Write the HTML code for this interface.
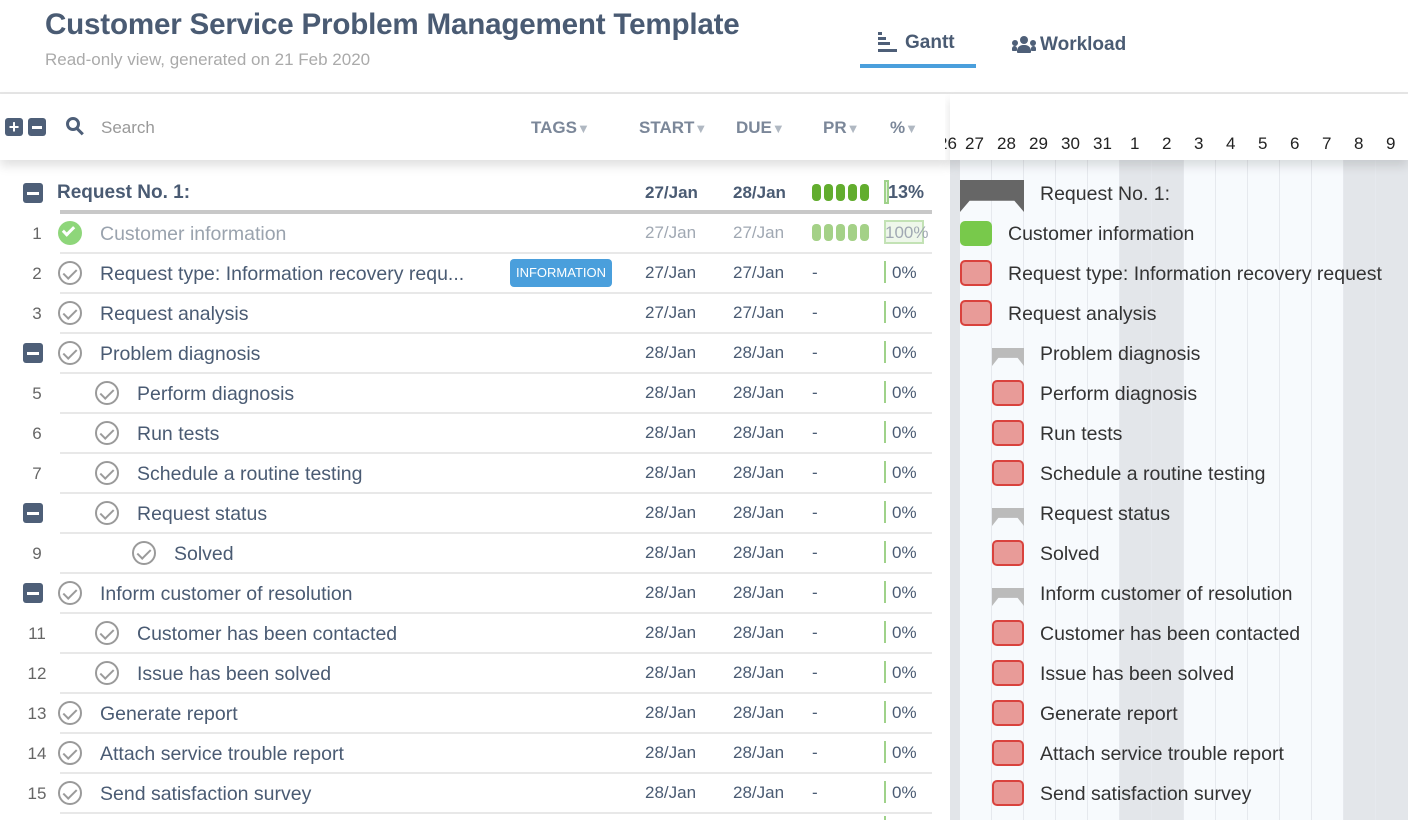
<!DOCTYPE html>
<html><head><meta charset="utf-8"><style>
*{margin:0;padding:0;box-sizing:border-box}
body{width:1408px;height:820px;overflow:hidden;background:#fff;font-family:"Liberation Sans",sans-serif;position:relative;color:#4a5b73}
.a{position:absolute;white-space:nowrap}
.t{font-size:19.5px;line-height:24px;transform:translateY(1px)}
.num{font-size:17px;color:#666;width:30px;text-align:center;transform:translateY(2px)}
.d{font-size:17px;color:#4a5b73;transform:translateY(1px)}
.sep{position:absolute;left:60px;width:872px;height:2px;background:#e8e8e8}
.chk{position:absolute;width:24px;height:24px;border:2px solid #9a9a9a;border-radius:50%}
.chk:after{content:"";position:absolute;left:6px;top:3px;width:6px;height:11px;border-right:2px solid #9a9a9a;border-bottom:2px solid #9a9a9a;transform:rotate(45deg)}
.mn{position:absolute;width:20px;height:20px;background:#4e5f78;border-radius:3px}
.mn:after{content:"";position:absolute;left:4px;top:9px;width:12px;height:3px;background:#fff}
.pb{position:absolute;left:884px;width:2px;height:22px;background:#9fd28a}
.bar{position:absolute;width:32px;height:26px;background:#e89b98;border:2px solid #d9423d;border-radius:5px}
.gt{font-size:19.5px;color:#333;line-height:24px;transform:translateY(1px)}
.col{position:absolute;top:160px;height:660px;width:1px;background:#e6e9ee}
.pill{position:absolute;width:64px;height:17px}
.pill i{float:left;width:9px;height:17px;border-radius:4px;margin-right:3px}
</style></head><body>
<div class="a" style="left:45px;top:8px;font-size:29.6px;font-weight:bold;color:#4a5b73;letter-spacing:-0.2px">Customer Service Problem Management Template</div>
<div class="a" style="left:45px;top:50px;font-size:17px;color:#aaa">Read-only view, generated on 21 Feb 2020</div>
<!-- tabs -->
<div class="a" style="left:878px;top:32px;width:18px;height:22px">
<div style="position:absolute;left:0;top:0;width:4px;height:3px;background:#4e5f78"></div>
<div style="position:absolute;left:0;top:5px;width:8px;height:3px;background:#4e5f78"></div>
<div style="position:absolute;left:0;top:10px;width:12px;height:3px;background:#4e5f78"></div>
<div style="position:absolute;left:0;top:17px;width:19px;height:3px;background:#4e5f78"></div></div>
<div class="a" style="left:905px;top:32px;font-size:19px;font-weight:bold;color:#4a5b73">Gantt</div>
<div class="a" style="left:860px;top:64px;width:116px;height:4px;background:#4a9fdc"></div>
<div class="a" style="left:1012px;top:36px;width:24px;height:18px">
<div style="position:absolute;left:8px;top:0;width:8px;height:8px;border-radius:50%;background:#4e5f78"></div>
<div style="position:absolute;left:0;top:4px;width:6px;height:6px;border-radius:50%;background:#4e5f78"></div>
<div style="position:absolute;left:18px;top:4px;width:6px;height:6px;border-radius:50%;background:#4e5f78"></div>
<div style="position:absolute;left:5px;top:9px;width:14px;height:8px;border-radius:6px 6px 1px 1px;background:#4e5f78"></div>
<div style="position:absolute;left:0;top:10px;width:5px;height:5px;border-radius:3px 3px 1px 1px;background:#4e5f78"></div>
<div style="position:absolute;left:19px;top:10px;width:5px;height:5px;border-radius:3px 3px 1px 1px;background:#4e5f78"></div></div>
<div class="a" style="left:1040px;top:34px;font-size:19px;font-weight:bold;color:#4a5b73">Workload</div>
<div class="a" style="left:0;top:92px;width:1408px;height:2px;background:#e6e6e6"></div>
<!-- toolbar -->
<div class="a" style="left:0;top:94px;width:950px;height:66px;background:#fff;box-shadow:0 6px 10px rgba(0,0,0,0.12);z-index:2">
<div style="position:absolute;left:5px;top:24px;width:18px;height:18px;background:#4e5f78;border-radius:3px;color:#fff;font-size:18px;line-height:18px;text-align:center;font-weight:bold">+</div>
<div style="position:absolute;left:28px;top:24px;width:18px;height:18px;background:#4e5f78;border-radius:3px"><div style="position:absolute;left:4px;top:8px;width:10px;height:3px;background:#fff"></div></div>
<div style="position:absolute;left:66px;top:23px;width:14px;height:14px;border:3px solid #4e5f78;border-radius:50%"></div>
<div style="position:absolute;left:76px;top:36px;width:8px;height:3px;background:#4e5f78;transform:rotate(45deg)"></div>
<div class="a" style="left:101px;top:24px;font-size:17px;color:#999">Search</div>
<div class="a" style="left:531px;top:24px;font-size:17px;font-weight:bold;color:#7b8799">TAGS<span style="color:#b0b8c2;font-size:13px">▼</span></div>
<div class="a" style="left:639px;top:24px;font-size:17px;font-weight:bold;color:#7b8799">START<span style="color:#b0b8c2;font-size:13px">▼</span></div>
<div class="a" style="left:736px;top:24px;font-size:17px;font-weight:bold;color:#7b8799">DUE<span style="color:#b0b8c2;font-size:13px">▼</span></div>
<div class="a" style="left:823px;top:24px;font-size:17px;font-weight:bold;color:#7b8799">PR<span style="color:#b0b8c2;font-size:13px">▼</span></div>
<div class="a" style="left:890px;top:24px;font-size:17px;font-weight:bold;color:#7b8799">%<span style="color:#b0b8c2;font-size:13px">▼</span></div>
</div>
<!-- gantt area -->
<div class="a" style="left:950px;top:94px;width:458px;height:726px;background:#f7fafd"></div>
<div class="a" style="left:950px;top:160px;width:10px;height:660px;background:#e2e5e9"></div>
<div class="a" style="left:1119px;top:160px;width:64px;height:660px;background:#e3e6ea"></div>
<div class="a" style="left:1343px;top:160px;width:65px;height:660px;background:#e3e6ea"></div>
<div class="col" style="left:991px"></div><div class="col" style="left:1023px"></div><div class="col" style="left:1055px"></div><div class="col" style="left:1087px"></div><div class="col" style="left:1119px"></div><div class="col" style="left:1151px"></div><div class="col" style="left:1183px"></div><div class="col" style="left:1215px"></div><div class="col" style="left:1247px"></div><div class="col" style="left:1279px"></div><div class="col" style="left:1311px"></div><div class="col" style="left:1343px"></div><div class="col" style="left:1375px"></div>
<div class="a" style="left:950px;top:94px;width:458px;height:66px;background:#fff;box-shadow:0 6px 10px rgba(0,0,0,0.12);z-index:2;font-size:17px;color:#222">
<span class="a" style="left:-12px;top:40px">26</span>
<span class="a" style="left:15px;top:40px">27</span><span class="a" style="left:47px;top:40px">28</span><span class="a" style="left:79px;top:40px">29</span><span class="a" style="left:111px;top:40px">30</span><span class="a" style="left:143px;top:40px">31</span>
<span class="a" style="left:180px;top:40px">1</span><span class="a" style="left:212px;top:40px">2</span><span class="a" style="left:244px;top:40px">3</span><span class="a" style="left:276px;top:40px">4</span><span class="a" style="left:308px;top:40px">5</span><span class="a" style="left:340px;top:40px">6</span><span class="a" style="left:372px;top:40px">7</span><span class="a" style="left:404px;top:40px">8</span><span class="a" style="left:436px;top:40px">9</span>
</div>
<div class="a" style="left:936px;top:94px;width:9px;height:66px;background:#fff;z-index:3"></div>

<!-- row 0 -->
<div class="mn" style="left:23px;top:183px"></div>
<div class="a" style="left:57px;top:182px;font-size:19px;font-weight:bold">Request No. 1:</div>
<div class="a d" style="left:645px;top:182px;font-weight:bold">27/Jan</div>
<div class="a d" style="left:733px;top:182px;font-weight:bold">28/Jan</div>
<div class="pill" style="left:812px;top:184px"><i style="background:#62ad2e"></i><i style="background:#62ad2e"></i><i style="background:#62ad2e"></i><i style="background:#62ad2e"></i><i style="background:#62ad2e"></i></div>
<div class="a" style="left:884px;top:180px;width:5px;height:24px;border:2px solid #9fd28a;background:#e6f2df"></div>
<div class="a d" style="left:888px;top:181px;font-weight:bold;font-size:18px">13%</div>
<div class="a" style="left:60px;top:210px;width:872px;height:4px;background:#c8c8c8"></div>
<div class="a" style="left:960px;top:180px;width:64px;height:32px;background:#666;clip-path:polygon(0 0,100% 0,100% 100%,85% 65%,15% 65%,0 100%)"></div>
<div class="a gt" style="left:1040px;top:181px">Request No. 1:</div>

<!-- row 1 -->
<div class="a num" style="left:22px;top:222px">1</div>
<div class="a" style="left:58px;top:221px;width:24px;height:24px;border-radius:50%;background:#8ed67a"></div>
<div class="a" style="left:65px;top:224px;width:7px;height:12px;border-right:3px solid #fff;border-bottom:3px solid #fff;transform:rotate(45deg)"></div>
<div class="a t" style="left:100px;top:221px;color:#9aa3ae">Customer information</div>
<div class="a d" style="left:645px;top:222px;color:#a0a8b3">27/Jan</div>
<div class="a d" style="left:733px;top:222px;color:#a0a8b3">27/Jan</div>
<div class="pill" style="left:812px;top:224px"><i style="background:#a4d187"></i><i style="background:#a4d187"></i><i style="background:#a4d187"></i><i style="background:#a4d187"></i><i style="background:#a4d187"></i></div>
<div class="a" style="left:884px;top:220px;width:40px;height:24px;border:2px solid #c3e2b5;background:#eef7ea"></div>
<div class="a d" style="left:885px;top:222px;color:#a0a8b3">100%</div>
<div class="sep" style="top:252px"></div>
<div class="a" style="left:960px;top:221px;width:32px;height:25px;background:#78c94b;border-radius:5px"></div>
<div class="a gt" style="left:1008px;top:221px">Customer information</div>

<div class="a num" style="left:22px;top:262px">2</div><div class="chk" style="left:58px;top:261px"></div>
<div class="a t" style="left:100px;top:261px">Request type: Information recovery requ...</div>
<div class="a" style="left:510px;top:259px;width:102px;height:28px;background:#4a9fdc;border-radius:4px;color:#fff;font-size:13px;text-align:center;line-height:28px">INFORMATION</div>
<div class="a d" style="left:645px;top:262px">27/Jan</div><div class="a d" style="left:733px;top:262px">27/Jan</div>
<div class="a d" style="left:812px;top:262px">-</div><div class="pb" style="top:261px"></div><div class="a d" style="left:892px;top:262px">0%</div>
<div class="sep" style="top:292px"></div>
<div class="bar" style="left:960px;top:260px"></div><div class="a gt" style="left:1008px;top:261px">Request type: Information recovery request</div>

<div class="a num" style="left:22px;top:302px">3</div><div class="chk" style="left:58px;top:301px"></div>
<div class="a t" style="left:100px;top:301px">Request analysis</div>
<div class="a d" style="left:645px;top:302px">27/Jan</div><div class="a d" style="left:733px;top:302px">27/Jan</div>
<div class="a d" style="left:812px;top:302px">-</div><div class="pb" style="top:301px"></div><div class="a d" style="left:892px;top:302px">0%</div>
<div class="sep" style="top:332px"></div>
<div class="bar" style="left:960px;top:300px"></div><div class="a gt" style="left:1008px;top:301px">Request analysis</div>

<div class="mn" style="left:23px;top:343px"></div><div class="chk" style="left:58px;top:341px"></div>
<div class="a t" style="left:100px;top:341px">Problem diagnosis</div>
<div class="a d" style="left:645px;top:342px">28/Jan</div><div class="a d" style="left:733px;top:342px">28/Jan</div>
<div class="a d" style="left:812px;top:342px">-</div><div class="pb" style="top:341px"></div><div class="a d" style="left:892px;top:342px">0%</div>
<div class="sep" style="top:372px"></div>
<div class="a" style="left:992px;top:348px;width:32px;height:18px;background:#bbb;clip-path:polygon(0 0,100% 0,100% 100%,80% 55%,20% 55%,0 100%)"></div><div class="a gt" style="left:1040px;top:341px">Problem diagnosis</div>

<div class="a num" style="left:22px;top:382px">5</div><div class="chk" style="left:95px;top:381px"></div>
<div class="a t" style="left:137px;top:381px">Perform diagnosis</div>
<div class="a d" style="left:645px;top:382px">28/Jan</div><div class="a d" style="left:733px;top:382px">28/Jan</div>
<div class="a d" style="left:812px;top:382px">-</div><div class="pb" style="top:381px"></div><div class="a d" style="left:892px;top:382px">0%</div>
<div class="sep" style="top:412px"></div>
<div class="bar" style="left:992px;top:380px"></div><div class="a gt" style="left:1040px;top:381px">Perform diagnosis</div>

<div class="a num" style="left:22px;top:422px">6</div><div class="chk" style="left:95px;top:421px"></div>
<div class="a t" style="left:137px;top:421px">Run tests</div>
<div class="a d" style="left:645px;top:422px">28/Jan</div><div class="a d" style="left:733px;top:422px">28/Jan</div>
<div class="a d" style="left:812px;top:422px">-</div><div class="pb" style="top:421px"></div><div class="a d" style="left:892px;top:422px">0%</div>
<div class="sep" style="top:452px"></div>
<div class="bar" style="left:992px;top:420px"></div><div class="a gt" style="left:1040px;top:421px">Run tests</div>

<div class="a num" style="left:22px;top:462px">7</div><div class="chk" style="left:95px;top:461px"></div>
<div class="a t" style="left:137px;top:461px">Schedule a routine testing</div>
<div class="a d" style="left:645px;top:462px">28/Jan</div><div class="a d" style="left:733px;top:462px">28/Jan</div>
<div class="a d" style="left:812px;top:462px">-</div><div class="pb" style="top:461px"></div><div class="a d" style="left:892px;top:462px">0%</div>
<div class="sep" style="top:492px"></div>
<div class="bar" style="left:992px;top:460px"></div><div class="a gt" style="left:1040px;top:461px">Schedule a routine testing</div>

<div class="mn" style="left:23px;top:503px"></div><div class="chk" style="left:95px;top:501px"></div>
<div class="a t" style="left:137px;top:501px">Request status</div>
<div class="a d" style="left:645px;top:502px">28/Jan</div><div class="a d" style="left:733px;top:502px">28/Jan</div>
<div class="a d" style="left:812px;top:502px">-</div><div class="pb" style="top:501px"></div><div class="a d" style="left:892px;top:502px">0%</div>
<div class="sep" style="top:532px"></div>
<div class="a" style="left:992px;top:508px;width:32px;height:18px;background:#bbb;clip-path:polygon(0 0,100% 0,100% 100%,80% 55%,20% 55%,0 100%)"></div><div class="a gt" style="left:1040px;top:501px">Request status</div>

<div class="a num" style="left:22px;top:542px">9</div><div class="chk" style="left:132px;top:541px"></div>
<div class="a t" style="left:174px;top:541px">Solved</div>
<div class="a d" style="left:645px;top:542px">28/Jan</div><div class="a d" style="left:733px;top:542px">28/Jan</div>
<div class="a d" style="left:812px;top:542px">-</div><div class="pb" style="top:541px"></div><div class="a d" style="left:892px;top:542px">0%</div>
<div class="sep" style="top:572px"></div>
<div class="bar" style="left:992px;top:540px"></div><div class="a gt" style="left:1040px;top:541px">Solved</div>

<div class="mn" style="left:23px;top:583px"></div><div class="chk" style="left:58px;top:581px"></div>
<div class="a t" style="left:100px;top:581px">Inform customer of resolution</div>
<div class="a d" style="left:645px;top:582px">28/Jan</div><div class="a d" style="left:733px;top:582px">28/Jan</div>
<div class="a d" style="left:812px;top:582px">-</div><div class="pb" style="top:581px"></div><div class="a d" style="left:892px;top:582px">0%</div>
<div class="sep" style="top:612px"></div>
<div class="a" style="left:992px;top:588px;width:32px;height:18px;background:#bbb;clip-path:polygon(0 0,100% 0,100% 100%,80% 55%,20% 55%,0 100%)"></div><div class="a gt" style="left:1040px;top:581px">Inform customer of resolution</div>

<div class="a num" style="left:22px;top:622px">11</div><div class="chk" style="left:95px;top:621px"></div>
<div class="a t" style="left:137px;top:621px">Customer has been contacted</div>
<div class="a d" style="left:645px;top:622px">28/Jan</div><div class="a d" style="left:733px;top:622px">28/Jan</div>
<div class="a d" style="left:812px;top:622px">-</div><div class="pb" style="top:621px"></div><div class="a d" style="left:892px;top:622px">0%</div>
<div class="sep" style="top:652px"></div>
<div class="bar" style="left:992px;top:620px"></div><div class="a gt" style="left:1040px;top:621px">Customer has been contacted</div>

<div class="a num" style="left:22px;top:662px">12</div><div class="chk" style="left:95px;top:661px"></div>
<div class="a t" style="left:137px;top:661px">Issue has been solved</div>
<div class="a d" style="left:645px;top:662px">28/Jan</div><div class="a d" style="left:733px;top:662px">28/Jan</div>
<div class="a d" style="left:812px;top:662px">-</div><div class="pb" style="top:661px"></div><div class="a d" style="left:892px;top:662px">0%</div>
<div class="sep" style="top:692px"></div>
<div class="bar" style="left:992px;top:660px"></div><div class="a gt" style="left:1040px;top:661px">Issue has been solved</div>

<div class="a num" style="left:22px;top:702px">13</div><div class="chk" style="left:58px;top:701px"></div>
<div class="a t" style="left:100px;top:701px">Generate report</div>
<div class="a d" style="left:645px;top:702px">28/Jan</div><div class="a d" style="left:733px;top:702px">28/Jan</div>
<div class="a d" style="left:812px;top:702px">-</div><div class="pb" style="top:701px"></div><div class="a d" style="left:892px;top:702px">0%</div>
<div class="sep" style="top:732px"></div>
<div class="bar" style="left:992px;top:700px"></div><div class="a gt" style="left:1040px;top:701px">Generate report</div>

<div class="a num" style="left:22px;top:742px">14</div><div class="chk" style="left:58px;top:741px"></div>
<div class="a t" style="left:100px;top:741px">Attach service trouble report</div>
<div class="a d" style="left:645px;top:742px">28/Jan</div><div class="a d" style="left:733px;top:742px">28/Jan</div>
<div class="a d" style="left:812px;top:742px">-</div><div class="pb" style="top:741px"></div><div class="a d" style="left:892px;top:742px">0%</div>
<div class="sep" style="top:772px"></div>
<div class="bar" style="left:992px;top:740px"></div><div class="a gt" style="left:1040px;top:741px">Attach service trouble report</div>

<div class="a num" style="left:22px;top:782px">15</div><div class="chk" style="left:58px;top:781px"></div>
<div class="a t" style="left:100px;top:781px">Send satisfaction survey</div>
<div class="a d" style="left:645px;top:782px">28/Jan</div><div class="a d" style="left:733px;top:782px">28/Jan</div>
<div class="a d" style="left:812px;top:782px">-</div><div class="pb" style="top:781px"></div><div class="a d" style="left:892px;top:782px">0%</div>
<div class="sep" style="top:812px"></div>
<div class="bar" style="left:992px;top:780px"></div><div class="a gt" style="left:1040px;top:781px">Send satisfaction survey</div>
<div class="pb" style="top:816px;height:4px"></div>
</body></html>
